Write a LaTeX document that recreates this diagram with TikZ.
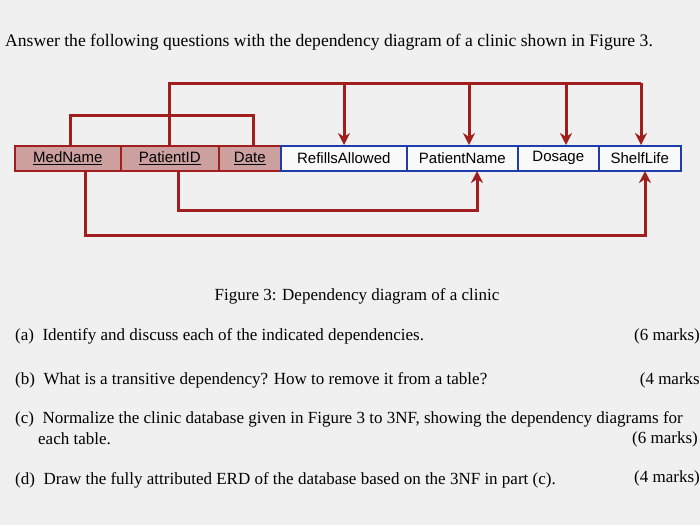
\documentclass[tikz,border=0pt]{standalone}
\usepackage{fontspec}
\setmainfont{Liberation Serif}
\newfontfamily\boxfont{Liberation Sans}
\usetikzlibrary{arrows.meta}
\definecolor{dep}{RGB}{160,30,30}
\definecolor{keyfill}{RGB}{205,160,160}
\definecolor{bl}{RGB}{30,60,170}
\begin{document}
\begin{tikzpicture}[x=1pt,y=-1pt,
  keybox/.style={draw=dep,fill=keyfill,line width=1.6pt,minimum height=25pt,inner sep=0pt,font=\boxfont\fontsize{15}{17}\selectfont,anchor=north west},
  attbox/.style={draw=bl,fill=white!95!gray,line width=1.6pt,minimum height=25pt,inner sep=0pt,font=\boxfont\fontsize{15}{17}\selectfont,anchor=north west},
  dl/.style={draw=dep,line width=3pt},
  da/.style={dl,-{Stealth[length=12pt,width=12pt]}},
  txt/.style={anchor=west,font=\fontsize{17}{19}\selectfont,inner sep=0pt}]
\useasboundingbox (0,0) rectangle (700,525);
\fill[gray!12] (0,0) rectangle (700,525);
\node[keybox,minimum width=106pt] (med) at (14,145) {\underline{MedName}};
\node[keybox,minimum width=98pt] (pid) at (120,145) {\underline{PatientID}};
\node[keybox,minimum width=62pt] (date) at (218,145) {\underline{Date}};
\node[attbox,minimum width=126pt] (ref) at (280,145) {RefillsAllowed};
\node[attbox,minimum width=111pt] (pn) at (406,145) {PatientName};
\node[attbox,minimum width=81pt] (dos) at (517,145) {Dosage};
\node[attbox,minimum width=82pt] (sl) at (598,145) {ShelfLife};
% composite key line
\draw[dl] (70,145) |- (253,115) -- (253,145);
% full dependency
\coordinate (t0) at (169,83);
\draw[dl] (169,145) -- (t0) -- (641,83);
\draw[da] (344,83) -- (344,145);
\draw[da] (469,83) -- (469,145);
\draw[da] (566,83) -- (566,145);
\draw[da] (641,83) -- (641,145);
% partial dependencies
\draw[da] (178,170) -- (178,210) -- (477,210) -- (477,171);
\draw[da] (85,170) -- (85,235) -- (645,235) -- (645,171);
\node[txt,font=\fontsize{17.6}{20}\selectfont] (q0) at (5,42) {Answer the following questions with the dependency diagram of a clinic shown in Figure 3.};
\node[txt,anchor=center] (cap) at (357,296) {Figure 3: Dependency diagram of a clinic};
\node[txt] (qa) at (15,336) {(a)\ \ Identify and discuss each of the indicated dependencies.};
\node[txt,anchor=east] (ma) at (700,336) {(6 marks)};
\node[txt] (qb) at (15,380) {(b)\ \ What is a transitive dependency? How to remove it from a table?};
\node[txt,anchor=east] (mb) at (700,380) {(4 marks};
\node[txt] (qc) at (15,419) {(c)\ \ Normalize the clinic database given in Figure 3 to 3NF, showing the dependency diagrams for};
\node[txt] (qc2) at (38,439) {each table.};
\node[txt,anchor=east] (mc) at (698,439) {(6 marks)};
\node[txt] (qd) at (15,480) {(d)\ \ Draw the fully attributed ERD of the database based on the 3NF in part (c).};
\node[txt,anchor=east] (md) at (700,478) {(4 marks)};
\end{tikzpicture}
\end{document}
